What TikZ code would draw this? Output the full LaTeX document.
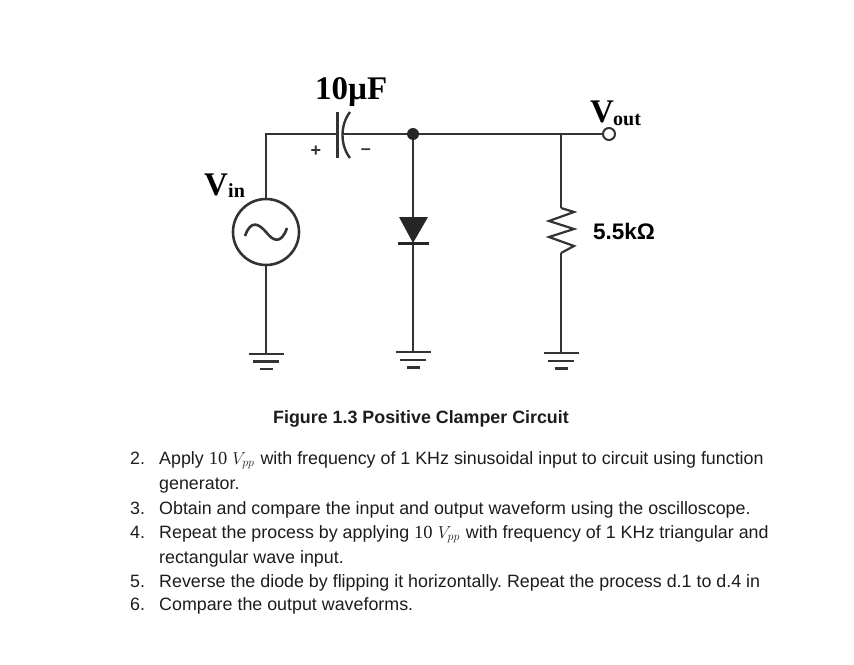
\documentclass[tikz,border=0pt]{standalone}
\usepackage{fontspec}
\setmainfont{Liberation Sans}
\newfontfamily\serifb{Liberation Serif}
\usetikzlibrary{calc}
\definecolor{wirec}{HTML}{333333}
\definecolor{textc}{HTML}{1C1C1C}
\newcommand{\bodysize}{\fontsize{17.85}{20}\selectfont\frenchspacing}
\newcommand{\vpp}{{\fontsize{18.5}{20}\selectfont{\serifb 10} $V_{pp}$}\hspace{1pt}}
\tikzset{
  wire/.style={draw=wirec,line width=2.2pt},
  gndline/.style={draw=wirec,line width=2.8pt},
  source/.style={circle,draw=wirec,line width=2.6pt,minimum size=66pt,inner sep=0pt},
  dotnode/.style={circle,fill=black!85,inner sep=0pt,minimum size=12pt},
  opennode/.style={circle,draw=wirec,fill=white,line width=2pt,inner sep=0pt,minimum size=12pt},
  bodytext/.style={anchor=base west,inner sep=0pt,text=textc,font=\bodysize},
  figtitle/.style={anchor=base west,inner sep=0pt,text=textc,font=\fontsize{17.85}{20}\selectfont\bfseries},
  bigserif/.style={anchor=base west,inner sep=0pt,text=black,font=\fontsize{33}{36}\selectfont\serifb\bfseries},
  smallserif/.style={anchor=base west,inner sep=0pt,text=black,font=\fontsize{20}{24}\selectfont\serifb\bfseries},
  rvalue/.style={anchor=base west,inner sep=0pt,text=black,font=\fontsize{22.5}{24}\selectfont\bfseries},
  sign/.style={inner sep=0pt,text=wirec,font=\fontsize{18}{20}\selectfont\bfseries},
}
\begin{document}
\begin{tikzpicture}[x=1pt,y=-1pt]
\useasboundingbox (0,0) rectangle (854,664);
% nodes
\coordinate (corner) at (266,134);
\node[source] (vs) at (266,232) {};
\coordinate (capL) at (337,134);
\coordinate (capR) at (343,134);
\node[dotnode] (j1) at (413,134) {};
\coordinate (j2) at (561,134);
\node[opennode] (out) at (609,134) {};
\coordinate (dA) at (413,217);
\coordinate (dK) at (413,243);
\coordinate (rT) at (561,208);
\coordinate (rB) at (561,253);
\coordinate (g1) at (266,354);
\coordinate (g2) at (413,352);
\coordinate (g3) at (561,353);
% wires
\draw[wire] (vs.north) -- (corner) -- (capL);
\draw[wire] (capR) -- (j1);
\draw[wire] (j1) -- (j2) -- (out);
\draw[wire] (j1) -- (dA);
\draw[wire] (dK) -- (g2);
\draw[wire] (j2) -- (rT);
\draw[wire] (rB) -- (g3);
\draw[wire] (vs.south) -- (g1);
% capacitor
\draw[draw=wirec,line width=3pt] (capL |- 0,112) -- (capL |- 0,158);
\draw[draw=wirec,line width=2.4pt] (350,112) .. controls (340,125) and (340,145) .. (350,158);
% source sine
\draw[draw=wirec,line width=2.6pt] (245,236) .. controls (251,219) and (259,224) .. (266,232) .. controls (273,241) and (281,245) .. (287,228);
% diode
\fill[black!85] (dA -| 399,0) -- (dA -| 428,0) -- (dK) -- cycle;
\draw[draw=black!85,line width=2.8pt] (398,243.5) -- (429,243.5);
% resistor
\draw[wire,line join=miter] (rT) -- (574,212) -- (549,221) -- (574,229) -- (549,237) -- (574,246) -- (rB);
% grounds
\foreach \g/\a/\b/\c in {g1/0/7.5/15, g2/0/8/15.5, g3/0/8/15.5}{
  \draw[gndline] ($(\g)+(-17.5,\a)$) -- ($(\g)+(17.5,\a)$);
  \draw[gndline] ($(\g)+(-13,\b)$) -- ($(\g)+(13,\b)$);
  \draw[gndline] ($(\g)+(-6.5,\c)$) -- ($(\g)+(6.5,\c)$);
}
% labels
\node[bigserif] (capv) at (315,99.5) {10µF};
\node[sign] (plus) at (316,151) {+};
\node[sign] (minus) at (366,152) {–};
\node[bigserif] (vinV) at (204,195) {V};
\node[smallserif] (vinS) at (228,197.5) {in};
\node[bigserif] (voutV) at (590,122) {V};
\node[smallserif] (voutS) at (613,125) {out};
\node[rvalue] (rval) at (593,239) {5.5kΩ};
\node[figtitle] (title) at (273,423) {Figure 1.3 Positive Clamper Circuit};
% list
\node[bodytext] (n2) at (130,464) {2.};
\node[bodytext] (t2) at (159,464) {Apply \vpp\ with frequency of 1 KHz sinusoidal input to circuit using function};
\node[bodytext] (t2b) at (159,489) {generator.};
\node[bodytext] (n3) at (130,514) {3.};
\node[bodytext] (t3) at (159,514) {Obtain and compare the input and output waveform using the oscilloscope.};
\node[bodytext] (n4) at (130,538) {4.};
\node[bodytext] (t4) at (159,538) {Repeat the process by applying \vpp\ with frequency of 1 KHz triangular and};
\node[bodytext] (t4b) at (159,563) {rectangular wave input.};
\node[bodytext] (n5) at (130,587) {5.};
\node[bodytext] (t5) at (159,587) {Reverse the diode by flipping it horizontally. Repeat the process d.1 to d.4 in};
\node[bodytext] (n6) at (130,610) {6.};
\node[bodytext] (t6) at (159,610) {Compare the output waveforms.};
\end{tikzpicture}
\end{document}
